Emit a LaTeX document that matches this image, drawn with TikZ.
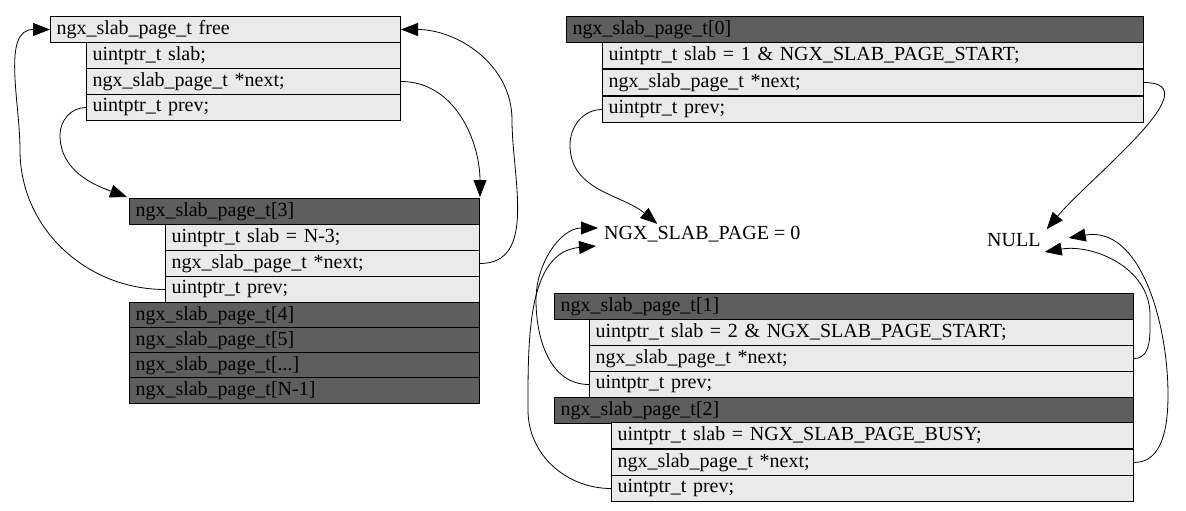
\documentclass[tikz,border=0pt]{standalone}
\usepackage{fontspec}
\setmainfont{Liberation Serif}
\usetikzlibrary{arrows.meta,calc}
\definecolor{lt}{HTML}{EAEAEA}
\definecolor{dk}{HTML}{5E5E5E}
\begin{document}
\begin{tikzpicture}[x=1pt,y=-1pt,
  box/.style={draw,line width=1pt,anchor=north west,minimum height=26pt,inner ysep=0pt,inner xsep=6pt,align=left,font=\fontsize{20}{22}\selectfont},
  row/.style={box,fill=lt,text width=#1},
  hdr/.style={box,fill=dk,text width=#1},
  lnk/.style={line width=0.8pt,-{Triangle[length=17pt,width=13pt]}}]
\useasboundingbox (0,0) rectangle (1186,511);
% left
\node[hdr=338pt,fill=lt] (free) at (50,16) {ngx\_slab\_page\_t free};
\node[row=302pt] (fs) at (86,42) {uintptr\_t slab;};
\node[row=302pt] (fn) at (86,68) {ngx\_slab\_page\_t *next;};
\node[row=302pt] (fp) at (86,94) {uintptr\_t prev;};
\node[hdr=338pt] (h3) at (129,198) {ngx\_slab\_page\_t[3]};
\node[row=302pt] (s3) at (165,224) {uintptr\_t slab = N-3;};
\node[row=302pt] (n3) at (165,250) {ngx\_slab\_page\_t *next;};
\node[row=302pt] (p3) at (165,276) {uintptr\_t prev;};
\node[hdr=338pt] (h4) at (129,302) {ngx\_slab\_page\_t[4]};
\node[hdr=338pt] (h5) at (129,327) {ngx\_slab\_page\_t[5]};
\node[hdr=338pt] (hd) at (129,352) {ngx\_slab\_page\_t[...]};
\node[hdr=338pt] (hn) at (129,377) {ngx\_slab\_page\_t[N-1]};
% right
\node[hdr=565pt] (h0) at (566,16) {ngx\_slab\_page\_t[0]};
\node[row=529pt] (s0) at (602,42) {uintptr\_t slab = 1 \& NGX\_SLAB\_PAGE\_START;};
\node[row=529pt] (n0) at (602,69) {ngx\_slab\_page\_t *next;};
\node[row=529pt] (p0) at (602,96) {uintptr\_t prev;};
\node[anchor=west,font=\fontsize{20}{22}\selectfont,inner sep=2pt] (pg) at (602,234) {NGX\_SLAB\_PAGE = 0};
\node[anchor=west,font=\fontsize{20}{22}\selectfont,inner sep=2pt] (nl) at (985,240) {NULL};
\node[hdr=567pt] (h1) at (554,293) {ngx\_slab\_page\_t[1]};
\node[row=532pt] (s1) at (589,319) {uintptr\_t slab = 2 \& NGX\_SLAB\_PAGE\_START;};
\node[row=532pt] (n1) at (589,345) {ngx\_slab\_page\_t *next;};
\node[row=532pt] (p1) at (589,371) {uintptr\_t prev;};
\node[hdr=567pt] (h2) at (554,397) {ngx\_slab\_page\_t[2]};
\node[row=510pt] (s2) at (611,422) {uintptr\_t slab = NGX\_SLAB\_PAGE\_BUSY;};
\node[row=510pt] (n2) at (611,449) {ngx\_slab\_page\_t *next;};
\node[row=510pt] (p2) at (611,475) {uintptr\_t prev;};
% links left
\draw[lnk] (fp.west) to[out=180,in=90] (60,135) to[out=-90,in=160] ($(h3.north west)+(-2,-1)$);
\draw[lnk] (fn.east) to[out=0,in=90] ($(h3.north east)+(0,-1)$);
\draw[lnk] (n3.east) to[out=0,in=-90] (512,120) to[out=90,in=0] (free.east);
\draw[lnk] (p3.west) to[out=180,in=-90] (20,150) to[out=90,in=180] (free.west);
% links right
\draw[lnk] (p0.west) to[out=180,in=90] (570,145) to[out=-90,in=140] ($(pg.north)+(-45,0)$);
\draw[lnk] (n0.east) to[out=0,in=50] ($(nl.north east)+(4,-2)$);
\draw[lnk] (p1.west) to[out=180,in=-90] (536,300) to[out=90,in=180] ($(pg.west)+(-4,-6)$);
\draw[lnk] (p2.west) to[out=180,in=-90] (528,410) to[out=90,in=185] ($(pg.west)+(-6,12)$);
\draw[lnk] (n1.east) to[out=0,in=-90] (1150,315) to[out=90,in=10] ($(nl.east)+(2,12)$);
\draw[lnk] (n2.east) to[out=0,in=-90] (1168,395) to[out=90,in=10] ($(nl.east)+(26,-2)$);
\end{tikzpicture}
\end{document}
